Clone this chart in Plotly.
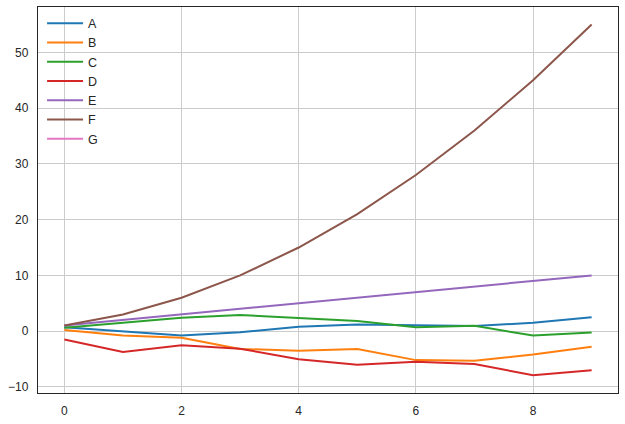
import plotly.graph_objects as go

x = list(range(10))
series_names = ["A", "B", "C", "D", "E", "F", "G"]
A = [0.7, -0.1, -0.8, -0.2, 0.8, 1.2, 1.1, 0.9, 1.5, 2.5]
B = [0.2, -0.8, -1.2, -3.2, -3.5, -3.2, -5.2, -5.3, -4.2, -2.8]
C = [0.6, 1.5, 2.4, 2.9, 2.3, 1.8, 0.7, 0.95, -0.8, -0.25]
D = [-1.5, -3.75, -2.55, -3.15, -5.05, -6.05, -5.5, -5.9, -7.9, -7.0]
E = [1, 2, 3, 4, 5, 6, 7, 8, 9, 10]
F = [1, 3, 6, 10, 15, 21, 28, 36, 45, 55]
G = [None] * 10
colors = ["#1f77b4", "#ff7f0e", "#2ca02c", "#d62728", "#9467bd", "#8c564b", "#e377c2"]

fig = go.Figure()
for name, vals, c in zip(series_names, [A, B, C, D, E, F, G], colors):
    fig.add_trace(go.Scatter(x=x, y=vals, mode="lines", name=name,
                             line=dict(color=c, width=2)))

font_family = "Liberation Sans, Arial, sans-serif"
axis_common = dict(showgrid=True, gridcolor="#cccccc", gridwidth=1,
                   zeroline=False, showline=True, linecolor="#262626", linewidth=1.25,
                   mirror=True, ticks="", ticklabelstandoff=6,
                   tickfont=dict(family=font_family, size=12, color="#262626"))
fig.update_layout(
    width=625, height=424,
    margin=dict(l=38, r=6, t=7, b=28),
    paper_bgcolor="white", plot_bgcolor="white",
    xaxis=dict(range=[-0.45, 9.45], tickvals=[0, 2, 4, 6, 8], **axis_common),
    yaxis=dict(range=[-11.1, 58.15], tickvals=[-10, 0, 10, 20, 30, 40, 50], **axis_common),
    legend=dict(x=0.007, y=0.996, xanchor="left", yanchor="top", bgcolor="rgba(0,0,0,0)",
                itemwidth=36,
                font=dict(family=font_family, size=12.5, color="#262626"), tracegroupgap=0),
    showlegend=True,
)
fig.write_html("out.html")
